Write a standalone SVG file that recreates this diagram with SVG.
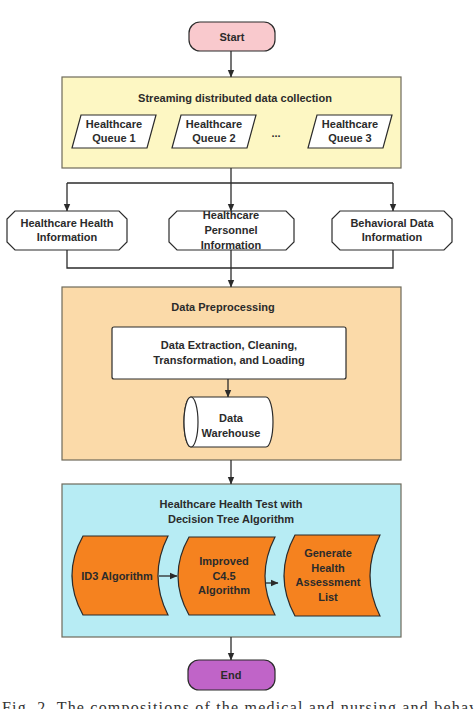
<svg xmlns="http://www.w3.org/2000/svg" width="474" height="709" viewBox="0 0 474 709">
<defs>
<marker id="ah" markerWidth="8" markerHeight="8" refX="7" refY="4" orient="auto" markerUnits="userSpaceOnUse">
<path d="M0,0.8 L7.5,4 L0,7.2 Z" fill="#2b2b2b"/>
</marker>
<style>
text{font-family:"Liberation Sans",Arial,sans-serif;font-size:11px;font-weight:bold;fill:#2b2b2b;text-anchor:middle}
.cap{font-family:"Liberation Serif","Times New Roman",serif;font-size:16px;font-weight:normal;fill:#333;text-anchor:start;letter-spacing:1.2px}
.ln{fill:none;stroke:#2b2b2b;stroke-width:1.3}
.node{stroke:#2b2b2b;stroke-width:1.2}
.cont{stroke:#6e6a5a;stroke-width:1.2}
.orange{fill:#f5821f;stroke:#2b2b2b;stroke-width:1.2}
</style>
</defs>
<rect width="474" height="709" fill="#ffffff"/>

<g id="container-streaming">
<rect class="cont" x="62" y="77" width="339" height="91" fill="#fdf7c3"/>
<text x="235" y="102">Streaming distributed data collection</text>
</g>
<g id="container-preprocessing">
<rect class="cont" x="62" y="287" width="339" height="173" fill="#fbdaa9"/>
<text x="223" y="311">Data Preprocessing</text>
</g>
<g id="container-decision">
<rect class="cont" x="62" y="484" width="339" height="153" fill="#b7ecf4"/>
<text x="231" y="508">Healthcare Health Test with</text>
<text x="231" y="523">Decision Tree Algorithm</text>
</g>

<g id="connectors">
<line class="ln" x1="231" y1="51" x2="231" y2="77" marker-end="url(#ah)"/>
<polyline class="ln" points="231,168 231,183"/>
<line class="ln" x1="67" y1="183" x2="393" y2="183"/>
<line class="ln" x1="67" y1="183" x2="67" y2="211" marker-end="url(#ah)"/>
<line class="ln" x1="231" y1="183" x2="231" y2="211" marker-end="url(#ah)"/>
<line class="ln" x1="393" y1="183" x2="393" y2="211" marker-end="url(#ah)"/>
<polyline class="ln" points="67,250 67,268 393,268 393,250"/>
<line class="ln" x1="231" y1="250" x2="231" y2="287" marker-end="url(#ah)"/>
<line class="ln" x1="228" y1="379" x2="228" y2="397" marker-end="url(#ah)"/>
<line class="ln" x1="231" y1="460" x2="231" y2="484" marker-end="url(#ah)"/>
<line class="ln" x1="159" y1="576" x2="177" y2="576" marker-end="url(#ah)"/>
<line class="ln" x1="263" y1="583" x2="278" y2="583" marker-end="url(#ah)"/>
<line class="ln" x1="231" y1="637" x2="231" y2="660" marker-end="url(#ah)"/>
</g>

<g id="node-start">
<rect class="node" x="189" y="22" width="86" height="29" rx="11" fill="#f9c9cd"/>
<text x="232" y="41">Start</text>
</g>

<g id="node-queue1">
<polygon class="node" points="81,115 156,115 147,148 72,148" fill="#ffffff"/>
<text x="114" y="128">Healthcare</text>
<text x="114" y="142">Queue 1</text>
</g>
<g id="node-queue2">
<polygon class="node" points="181,115 256,115 247,148 172,148" fill="#ffffff"/>
<text x="214" y="128">Healthcare</text>
<text x="214" y="142">Queue 2</text>
</g>
<g id="node-ellipsis">
<text x="276" y="137">...</text>
</g>
<g id="node-queue3">
<polygon class="node" points="317,115 392,115 383,148 308,148" fill="#ffffff"/>
<text x="350" y="128">Healthcare</text>
<text x="350" y="142">Queue 3</text>
</g>

<g id="node-health-info">
<polygon class="node" points="15,211 119,211 127,219 127,242 119,250 15,250 7,242 7,219" fill="#ffffff"/>
<text x="67" y="227">Healthcare Health</text>
<text x="67" y="241">Information</text>
</g>
<g id="node-personnel-info">
<polygon class="node" points="177,211 286,211 294,219 294,242 286,250 177,250 169,242 169,219" fill="#ffffff"/>
<text x="231" y="219">Healthcare</text>
<text x="231" y="234">Personnel</text>
<text x="231" y="249">Information</text>
</g>
<g id="node-behavioral-info">
<polygon class="node" points="340,211 444,211 452,219 452,242 444,250 340,250 332,242 332,219" fill="#ffffff"/>
<text x="392" y="227">Behavioral Data</text>
<text x="392" y="241">Information</text>
</g>

<g id="node-etl">
<rect class="node" x="112" y="327" width="234" height="52" rx="2" fill="#ffffff"/>
<text x="229" y="349">Data Extraction, Cleaning,</text>
<text x="229" y="364">Transformation, and Loading</text>
</g>
<g id="node-warehouse">
<path class="node" d="M191,397 L266,397 A7,25 0 0 1 266,447 L191,447 A7,25 0 0 1 191,397 Z" fill="#ffffff"/>
<ellipse class="node" cx="191" cy="422" rx="7" ry="25" fill="#ffffff"/>
<text x="231" y="422">Data</text>
<text x="231" y="437">Warehouse</text>
</g>

<g id="node-id3">
<path class="orange" d="M83,536 L168,536 Q148,575.5 168,615 L83,615 Q61,575.5 83,536 Z"/>
<text x="117" y="580">ID3 Algorithm</text>
</g>
<g id="node-c45">
<path class="orange" d="M189,537 L275,537 Q255,576 275,615 L189,615 Q167,576 189,537 Z"/>
<text x="224" y="565">Improved</text>
<text x="224" y="580">C4.5</text>
<text x="224" y="594">Algorithm</text>
</g>
<g id="node-generate">
<path class="orange" d="M295,535 L380,535 Q360,575.5 380,616 L295,616 Q273,575.5 295,535 Z"/>
<text x="328" y="557">Generate</text>
<text x="328" y="572">Health</text>
<text x="328" y="586">Assessment</text>
<text x="328" y="601">List</text>
</g>

<g id="node-end">
<rect class="node" x="188" y="660" width="87" height="30" rx="11" fill="#c064c8"/>
<text x="231" y="679">End</text>
</g>

<text class="cap" x="2" y="713">Fig. 2. The compositions of the medical and nursing and behavioral</text>
</svg>
